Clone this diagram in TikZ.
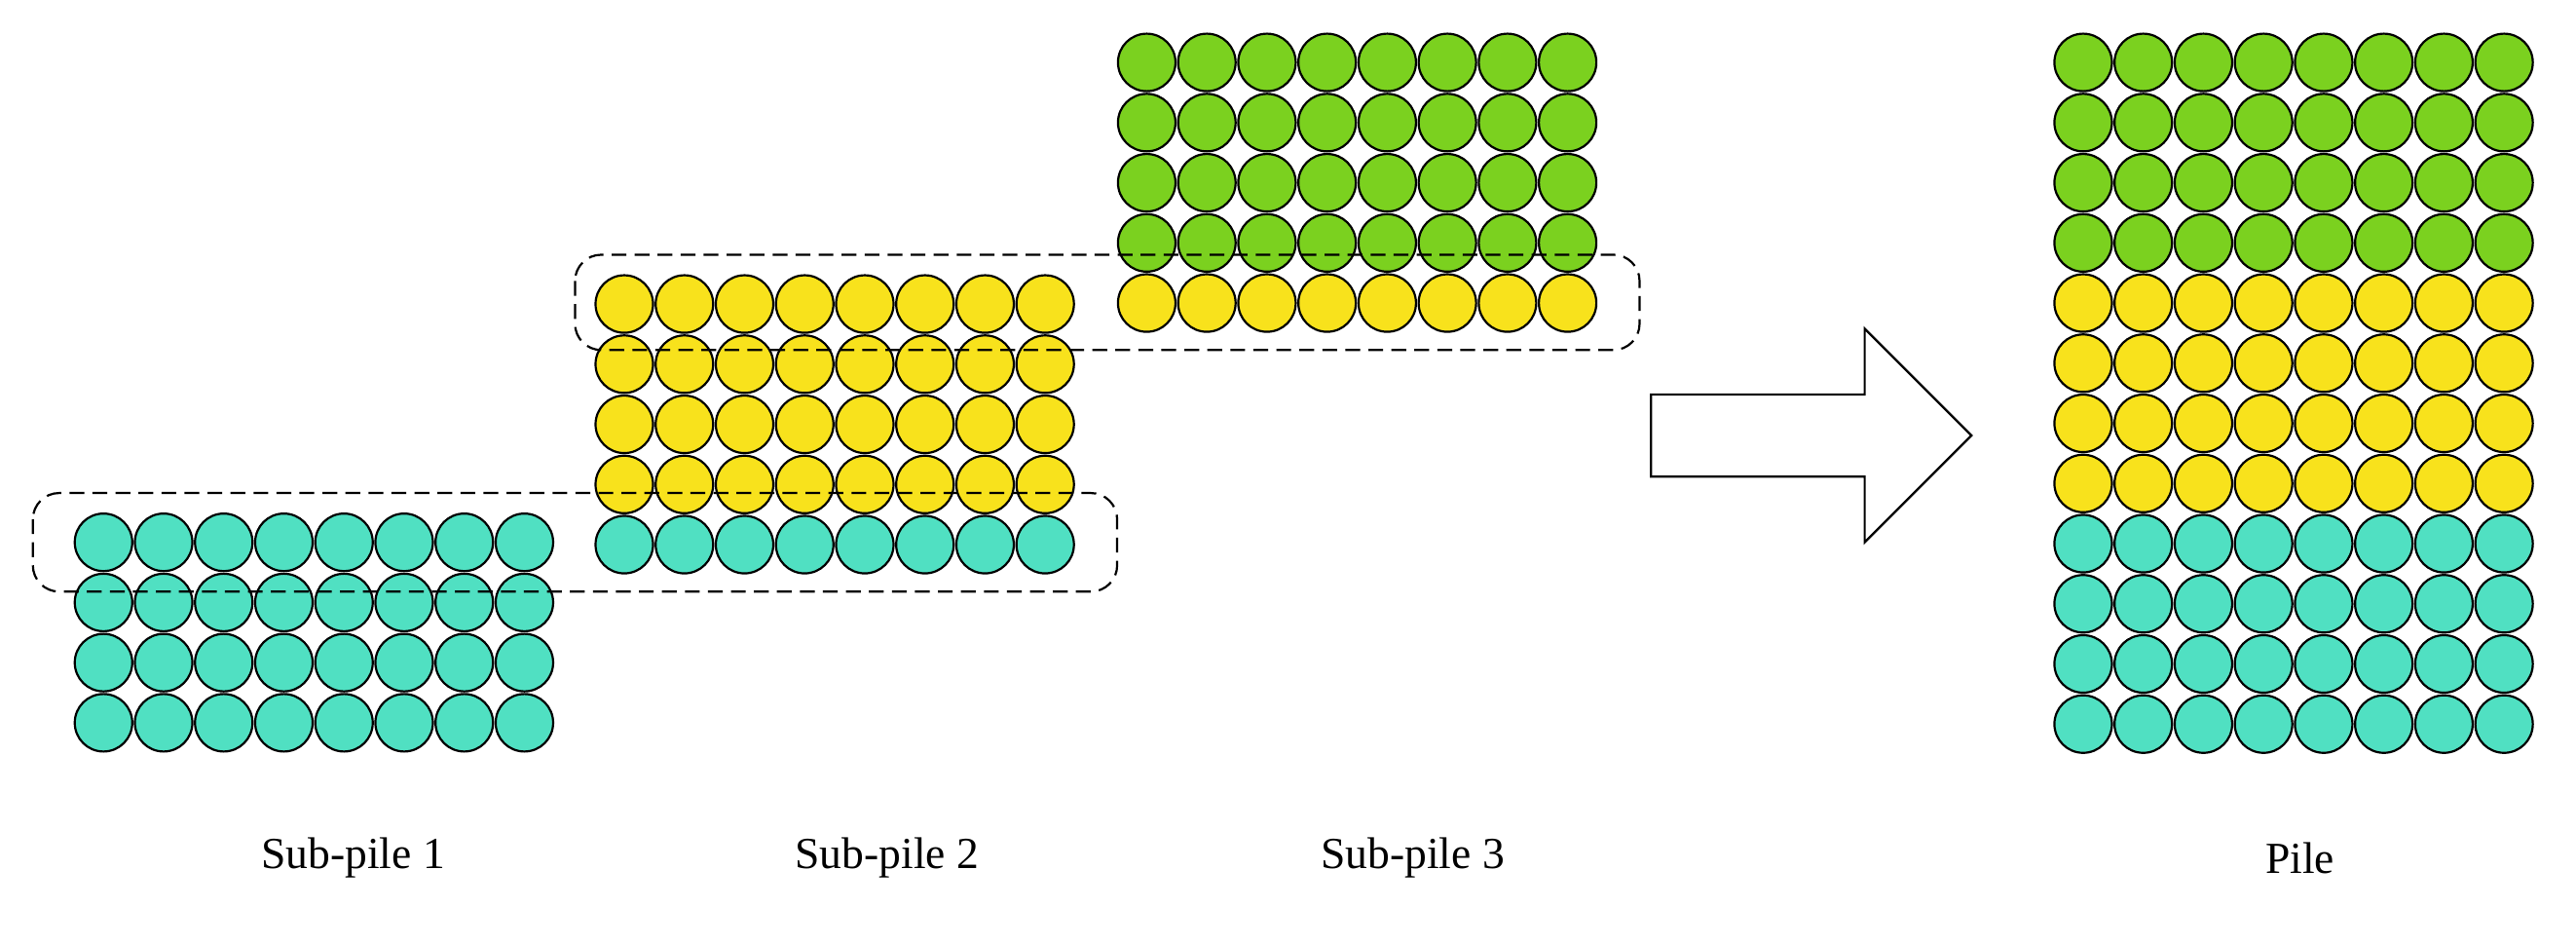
\documentclass[tikz,border=0pt]{standalone}
\usepackage{fontspec}
\setmainfont{Liberation Serif}
\begin{document}
\begin{tikzpicture}[x=1pt,y=-1pt,
  ball/.style={circle,draw=black,line width=1.3pt,minimum size=35pt,inner sep=0pt},
  cy/.style={ball,fill=cyanb}, ye/.style={ball,fill=yelb}, gr/.style={ball,fill=greenb},
  lab/.style={font=\fontsize{27}{30}\selectfont},
  dbox/.style={draw=black,line width=1.3pt,dash pattern=on 9pt off 5pt,rounded corners=16pt}]
\definecolor{cyanb}{HTML}{50E0C2}
\definecolor{yelb}{HTML}{F8E21C}
\definecolor{greenb}{HTML}{7BD11F}
\useasboundingbox (0,0) rectangle (1568,575);
\def\p{36.6}
% sub-pile 1
\foreach \r in {0,...,3}\foreach \c in {0,...,7}
  \node[cy] (a\r\c) at (63+\p*\c,330+\p*\r) {};
% sub-pile 2
\foreach \r in {0,...,3}\foreach \c in {0,...,7}
  \node[ye] (b\r\c) at (380+\p*\c,185+\p*\r) {};
\foreach \c in {0,...,7}
  \node[cy] (b4\c) at (380+\p*\c,185+\p*4) {};
% sub-pile 3
\foreach \r in {0,...,3}\foreach \c in {0,...,7}
  \node[gr] (g\r\c) at (698+\p*\c,38+\p*\r) {};
\foreach \c in {0,...,7}
  \node[ye] (g4\c) at (698+\p*\c,38+\p*4) {};
% pile
\foreach \r in {0,...,11}{
  \ifnum\r<4 \def\st{gr}\else\ifnum\r<8 \def\st{ye}\else\def\st{cy}\fi\fi
  \foreach \c in {0,...,7}
    \node[\st] (p\r\c) at (1268+\p*\c,38+\p*\r) {};}
% dashed boxes
\draw[dbox] (20,300) rectangle (680,360);
\draw[dbox] (350,155) rectangle (998,213);
% arrow
\draw[line width=1.3pt,fill=white] (1005,240) -- (1135,240) -- (1135,200) -- (1200,265)
  -- (1135,330) -- (1135,290) -- (1005,290) -- cycle;
% labels
\node[lab] (l1) at (215,522) {Sub-pile 1};
\node[lab] (l2) at (540,522) {Sub-pile 2};
\node[lab] (l3) at (860,522) {Sub-pile 3};
\node[lab] (l4) at (1400,522) {Pile};
\end{tikzpicture}
\end{document}
